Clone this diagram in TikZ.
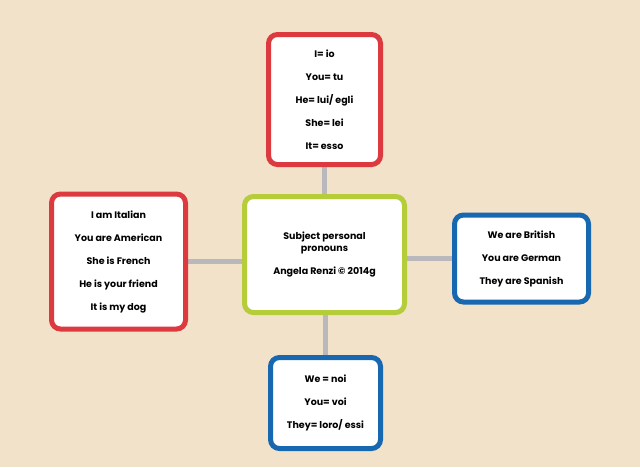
\documentclass[tikz,border=0pt]{standalone}
\usepackage{fontspec}
\setmainfont{Poppins}
\usepackage{tikz}
\usetikzlibrary{backgrounds}

\definecolor{paper}{HTML}{F2E2C9}
\definecolor{boxred}{HTML}{DD3A40}
\definecolor{boxblue}{HTML}{1768B1}
\definecolor{boxgreen}{HTML}{B6CD3A}
\definecolor{linkgray}{HTML}{B9B9BD}

\begin{document}
\begin{tikzpicture}[x=1pt,y=-1pt,
    card/.style={draw,fill=white,line width=5pt,rounded corners=9pt,
      align=center,inner sep=0pt,
      font=\fontsize{9.5}{23}\selectfont\bfseries},
    link/.style={draw=linkgray,line width=5pt}]
  \useasboundingbox (0,0) rectangle (640,467);
  % boxes
  \node[card,draw=boxred,minimum width=112pt,minimum height=130pt] (sing) at (324.5,99.5)
    {I= io\\You= tu\\He= lui/ egli\\She= lei\\It= esso};
  \node[card,draw=boxgreen,minimum width=160pt,minimum height=116pt] (topic) at (324.5,254.5)
    {Subject personal\\[-11pt]pronouns\\Angela Renzi © 2014g};
  \node[card,draw=boxred,minimum width=134pt,minimum height=135pt] (exsing) at (118.5,261.5)
    {I am Italian\\You are American\\She is French\\He is your friend\\It is my dog};
  \node[card,draw=boxblue,minimum width=134pt,minimum height=87pt] (explur) at (521.5,258.5)
    {We are British\\You are German\\They are Spanish};
  \node[card,draw=boxblue,minimum width=110pt,minimum height=91pt] (plur) at (325.5,403)
    {We = noi\\You= voi\\They= loro/ essi};
  % links behind the boxes
  \begin{scope}[on background layer]
    \fill[paper] (0,0) rectangle (640,467);
    \draw[link] (sing.south) -- (sing.south |- topic.north);
    \draw[link] (plur.north) -- (plur.north |- topic.south);
    \draw[link] (exsing.east) -- (exsing.east -| topic.west);
    \draw[link] (explur.west) -- (explur.west -| topic.east);
  \end{scope}
\end{tikzpicture}
\end{document}
